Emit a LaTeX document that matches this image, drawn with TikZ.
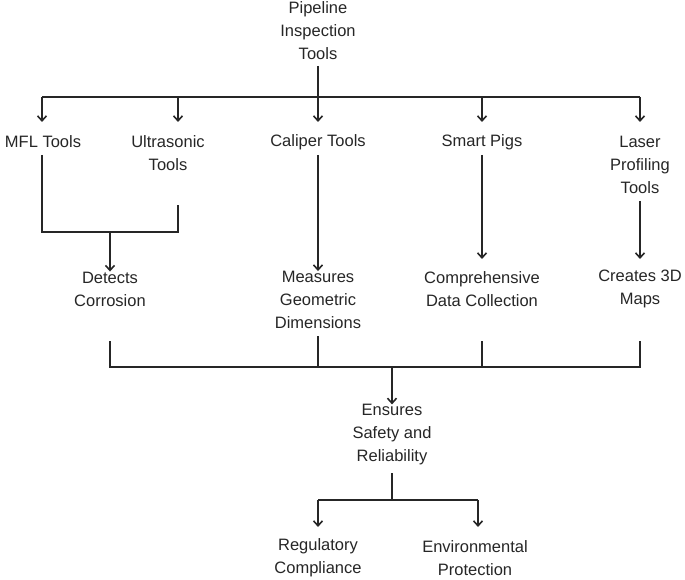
\documentclass[tikz,border=0pt]{standalone}
\usepackage{fontspec}
\setmainfont{Liberation Sans}
\usetikzlibrary{arrows.meta}
\begin{document}
\begin{tikzpicture}[x=1pt,y=-1pt,
  t/.style={align=center,font=\fontsize{16.5}{23}\selectfont,text=black!85,inner sep=0pt},
  ln/.style={line width=1.6pt,draw=black!85},
  ar/.style={ln,-{Straight Barb[length=5pt,width=9pt]}}]
\useasboundingbox (0,0) rectangle (685,580);
\node[t] (pit) at (318,31) {Pipeline\\Inspection\\Tools};
\node[t] (mfl) at (43,142) {MFL Tools};
\node[t] (ult) at (168,153) {Ultrasonic\\Tools};
\node[t] (cal) at (318,142) {Caliper Tools};
\node[t] (sp) at (482,142) {Smart Pigs};
\node[t] (lp) at (640,165) {Laser\\Profiling\\Tools};
\node[t] (dc) at (110,289) {Detects\\Corrosion};
\node[t] (mg) at (318,300) {Measures\\Geometric\\Dimensions};
\node[t] (cd) at (482,289) {Comprehensive\\Data Collection};
\node[t] (c3) at (640,289) {Creates 3D\\Maps};
\node[t] (es) at (392,435) {Ensures\\Safety and\\Reliability};
\node[t] (rc) at (318,558) {Regulatory\\Compliance};
\node[t] (ep) at (475,558) {Environmental\\Protection};
\coordinate (b1) at (318,97);
\draw[ln] (318,66) -- (b1);
\draw[ln] (42,97) -- (640,97);
\foreach \x/\n in {42/mfl,178/ult,318/cal,482/sp,640/lp}
  \draw[ar] (\x,97) -- (\x,122);
\draw[ln] (42,155) -- (42,232) -- (178,232) -- (178,205);
\draw[ar] (110,232) -- (dc.north);
\draw[ar] (318,155) -- (mg.north);
\draw[ar] (482,155) -- (482,259);
\draw[ar] (640,201) -- (640,259);
\draw[ln] (110,341) -- (110,367) -- (640,367) -- (640,341);
\draw[ln] (318,336) -- (318,367);
\draw[ln] (482,341) -- (482,367);
\draw[ar] (392,367) -- (es.north);
\draw[ln] (392,473) -- (392,500);
\draw[ln] (318,500) -- (478,500);
\draw[ar] (318,500) -- (318,527);
\draw[ar] (478,500) -- (478,527);
\end{tikzpicture}
\end{document}
